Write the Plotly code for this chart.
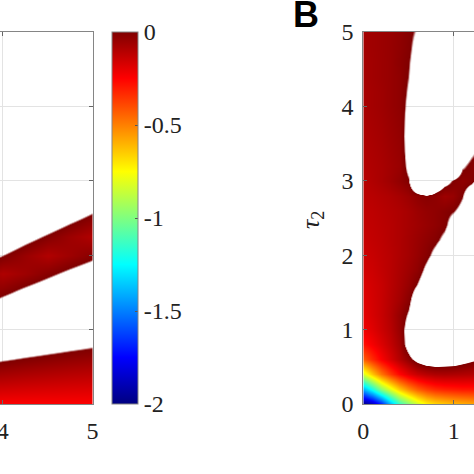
import plotly.graph_objects as go

# left panel, only the part x>=4 is on the page
left_x = [3.75, 4.0, 4.25, 4.5, 4.75, 5.0]
left_y = [0, 0.25, 0.5, 0.75, 1, 1.25, 1.5, 1.75, 2, 2.25, 2.5, 2.75, 3]
left_z = [
    [-0.25, -0.25, -0.25, -0.25, -0.25, -0.25],
    [-0.131, -0.14, -0.149, -0.156, -0.162, -0.167],
    [-0.012, -0.031, -0.047, -0.061, -0.073, -0.084],
    [0.107, 0.079, 0.054, 0.033, 0.015, -0.001],
    [0.133, 0.174, 0.156, 0.128, 0.104, 0.082],
    [0.035, 0.08, 0.122, 0.16, 0.197, 0.165],
    [-0.063, -0.014, 0.031, 0.072, 0.112, 0.15],
    [-0.039, -0.092, -0.06, -0.015, 0.027, 0.067],
    [0.059, 0.003, -0.049, -0.097, -0.058, -0.016],
    [0.156, 0.097, 0.042, -0.009, -0.057, -0.098],
    [0.254, 0.192, 0.133, 0.078, 0.028, -0.02],
    [0.352, 0.286, 0.224, 0.166, 0.113, 0.063],
    [0.45, 0.38, 0.3, 0.253, 0.198, 0.145],
]

# right panel, only x<=1.22 is on the page
right_x = [0, 0.1, 0.2, 0.3, 0.4, 0.5, 0.6, 0.7, 0.8, 0.9, 1.0, 1.1, 1.2, 1.3]
right_y = [0, 0.2, 0.4, 0.6, 0.8, 1.0, 1.2, 1.4, 1.6, 1.8, 2.0, 2.2, 2.4, 2.6, 2.8,
           3.0, 3.2, 3.4, 3.6, 3.8, 4.0, 4.2, 4.4, 4.6, 4.8, 5.0]
right_z = [
    [-2.0, -1.9, -1.7, -1.4, -1.15, -1.0, -0.85, -0.74, -0.68, -0.65, -0.62, -0.6, -0.58, -0.57],
    [-1.4, -1.2, -0.97, -0.8, -0.64, -0.52, -0.43, -0.37, -0.33, -0.31, -0.3, -0.29, -0.29, -0.29],
    [-0.82, -0.64, -0.48, -0.36, -0.26, -0.19, -0.14, -0.11, -0.09, -0.085, -0.09, -0.095, -0.1, -0.11],
    [-0.43, -0.33, -0.24, -0.17, -0.1, -0.03, 0.047, 0.09, 0.096, 0.085, 0.08, 0.051, 0.025, 0.006],
    [-0.28, -0.23, -0.18, -0.13, -0.07, 0.06, 0.2, 0.3, 0.3, 0.3, 0.3, 0.3, 0.2, 0.2],
    [-0.22, -0.19, -0.15, -0.11, -0.05, 0.056, 0.2, 0.3, 0.3, 0.3, 0.3, 0.3, 0.3, 0.3],
    [-0.2, -0.17, -0.14, -0.1, -0.045, 0.015, 0.1, 0.2, 0.3, 0.3, 0.3, 0.3, 0.3, 0.3],
    [-0.19, -0.165, -0.14, -0.105, -0.07, -0.02, 0.08, 0.15, 0.25, 0.3, 0.3, 0.3, 0.3, 0.3],
    [-0.18, -0.16, -0.14, -0.11, -0.08, -0.045, 0.008, 0.06, 0.15, 0.25, 0.3, 0.3, 0.3, 0.3],
    [-0.16, -0.15, -0.13, -0.11, -0.085, -0.06, -0.03, 0.0245, 0.08, 0.15, 0.25, 0.3, 0.3, 0.3],
    [-0.15, -0.14, -0.125, -0.11, -0.09, -0.07, -0.045, -0.015, 0.028, 0.08, 0.15, 0.25, 0.3, 0.3],
    [-0.14, -0.13, -0.12, -0.105, -0.09, -0.07, -0.05, -0.03, -0.01, 0.023, 0.07, 0.13, 0.2, 0.25],
    [-0.13, -0.125, -0.115, -0.105, -0.09, -0.075, -0.06, -0.045, -0.03, -0.01, 0.04, 0.08, 0.13, 0.18],
    [-0.125, -0.12, -0.11, -0.1, -0.09, -0.075, -0.055, -0.04, -0.03, -0.015, 0.0, 0.03, 0.07, 0.11],
    [-0.115, -0.11, -0.1, -0.09, -0.075, -0.055, -0.03, -0.015, -0.03, -0.06, -0.045, 0.0, 0.075, 0.15],
    [-0.11, -0.095, -0.08, -0.06, -0.035, -0.005, 0.17, 0.36, 0.12, 0.04, -0.006, -0.03, -0.013, 0.045],
    [-0.1, -0.09, -0.08, -0.065, -0.05, 0.028, 0.1, 0.15, 0.15, 0.1, 0.114, 0.013, -0.012, -0.03],
    [-0.095, -0.085, -0.075, -0.06, -0.045, 0.0415, 0.1, 0.15, 0.2, 0.15, 0.1, 0.05, 0.018, -0.006],
    [-0.09, -0.08, -0.07, -0.055, -0.04, 0.045, 0.1, 0.15, 0.2, 0.2, 0.15, 0.1, 0.05, 0.034],
    [-0.085, -0.075, -0.065, -0.05, -0.035, 0.035, 0.1, 0.15, 0.2, 0.2, 0.2, 0.15, 0.1, 0.1],
    [-0.08, -0.07, -0.06, -0.045, -0.03, 0.0226, 0.1, 0.15, 0.2, 0.2, 0.2, 0.2, 0.2, 0.2],
    [-0.08, -0.07, -0.06, -0.045, -0.03, 0.0129, 0.08, 0.15, 0.2, 0.2, 0.2, 0.2, 0.2, 0.2],
    [-0.075, -0.065, -0.055, -0.045, -0.03, 0.0033, 0.05, 0.1, 0.2, 0.2, 0.2, 0.2, 0.2, 0.2],
    [-0.075, -0.065, -0.055, -0.045, -0.025, -0.002, 0.04, 0.1, 0.2, 0.2, 0.2, 0.2, 0.2, 0.2],
    [-0.07, -0.062, -0.054, -0.044, -0.03, -0.01, 0.03, 0.08, 0.2, 0.2, 0.2, 0.2, 0.2, 0.2],
    [-0.07, -0.062, -0.054, -0.046, -0.032, -0.012, 0.012, 0.06, 0.2, 0.2, 0.2, 0.2, 0.2, 0.2],
]

cbar_range = [-2, 0]
cbar_ticks = [-2, -1.5, -1, -0.5, 0]
cbar_labels = ['-2', '-1.5', '-1', '-0.5', '0']
xticks_left = [4, 5]
xticks_right = [0, 1]
yticks = [0, 1, 2, 3, 4, 5]

jet = [[0, 'rgb(0,0,128)'], [0.125, 'rgb(0,0,255)'], [0.375, 'rgb(0,255,255)'],
       [0.625, 'rgb(255,255,0)'], [0.875, 'rgb(255,0,0)'], [1, 'rgb(128,0,0)']]
# same jet on -2..0, anything above 0 is see-through (white region with the grid)
# the short fade just past 0 softens the stair steps on the edge
zmin, zmax = -2, 0.5
jet_clear = [[(-2 + s[0] * 2 - zmin) / (zmax - zmin), s[1]] for s in jet]
jet_clear += [[0.8032, 'rgba(128,0,0,0)'], [1, 'rgba(128,0,0,0)']]

W = 474.0
top, bottom = 32, 404
ydom = [1 - bottom / W, 1 - top / W]
serif = '"Liberation Serif", "Times New Roman", Times, serif'
gray = '#858585'
tickfont = dict(family=serif, size=24, color='#222222')

fig = go.Figure()
fig.add_trace(go.Heatmap(x=left_x, y=left_y, z=left_z, xaxis='x', yaxis='y', zsmooth='best',
                         zmin=zmin, zmax=zmax, colorscale=jet_clear, showscale=False, hoverinfo='skip'))
fig.add_trace(go.Heatmap(x=right_x, y=right_y, z=right_z, xaxis='x2', yaxis='y2', zsmooth='best',
                         zmin=zmin, zmax=zmax, colorscale=jet_clear, showscale=False, hoverinfo='skip'))
# only there for the colorbar, sits off the axis range
fig.add_trace(go.Scatter(x=[4.5, 4.5], y=[-9, -9], xaxis='x', yaxis='y', mode='markers', showlegend=False,
                         marker=dict(color=cbar_range, cmin=-2, cmax=0, colorscale=jet, showscale=True,
                                     colorbar=dict(x=111.5 / W, xanchor='left', xpad=0, ypad=0,
                                                   y=(ydom[0] + ydom[1]) / 2, yanchor='middle',
                                                   len=(bottom - top) / W, thickness=25.5,
                                                   outlinecolor=gray, outlinewidth=1,
                                                   tickmode='array', tickvals=cbar_ticks, ticktext=cbar_labels,
                                                   ticks='inside', ticklen=3, tickcolor='#555555',
                                                   tickfont=tickfont))))

axis = dict(showline=True, linecolor=gray, linewidth=1, showgrid=True, gridcolor='#e3e3e3', gridwidth=1,
            ticks='inside', ticklen=4, tickcolor='#666666', zeroline=False, tickfont=tickfont,
            ticklabeloverflow='allow')

fig.update_layout(
    width=474, height=474, autosize=False,
    margin=dict(l=0, r=0, t=0, b=0, pad=0, autoexpand=False),
    font=dict(family=serif),
    paper_bgcolor='white', plot_bgcolor='white',
    showlegend=False,
    xaxis=dict(axis, domain=[0, 92.5 / W], range=[3.97, 5], anchor='y', mirror='ticks',
               tickmode='array', tickvals=xticks_left, ticklabelstandoff=5),
    yaxis=dict(axis, domain=ydom, range=[0, 5], anchor='x', side='right',
               tickmode='array', tickvals=yticks, showticklabels=False),
    xaxis2=dict(axis, domain=[363.3 / W, 1], range=[0, 1.225], anchor='y2', mirror='ticks',
                tickmode='array', tickvals=xticks_right, ticklabelstandoff=5),
    yaxis2=dict(axis, domain=ydom, range=[0, 5], anchor='x2',
                tickmode='array', tickvals=yticks, ticklabelstandoff=4),
    annotations=[
        dict(text='<b>B</b>', x=305.5 / W, y=1 - 15 / W, xref='paper', yref='paper', showarrow=False,
             xanchor='center', yanchor='middle', font=dict(family='Liberation Sans', size=36, color='black')),
        dict(text='<i>τ</i><sub>2</sub>', x=312 / W, y=1 - 220 / W, xref='paper', yref='paper', showarrow=False,
             textangle=-90, xanchor='center', yanchor='middle', font=dict(family=serif, size=26, color='#222222')),
    ],
)

fig.write_html("out.html", config=dict(displayModeBar=False), post_script="document.body.style.margin='0';")
